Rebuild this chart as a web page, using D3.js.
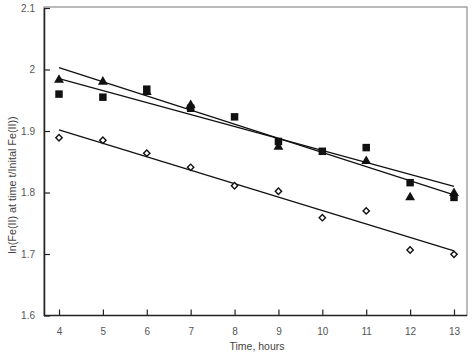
<!DOCTYPE html>
<html><head><meta charset="utf-8">
<script src="https://cdn.jsdelivr.net/npm/d3@7"></script>
<style>body{margin:0;background:#fff}svg{display:block}text{font-family:"Liberation Sans",Arial,sans-serif}</style>
</head><body>
<svg id="c" width="474" height="355"></svg>
<script>
const hours = [4,5,6,7,8,9,10,11,12,13];
const triangles = [1.983,1.980,1.963,1.942,null,1.874,null,1.851,1.792,1.799];
const squares = [1.960,1.955,1.968,1.937,1.923,1.883,1.867,1.873,1.816,1.792];
const diamonds = [1.889,1.885,1.864,1.841,1.811,1.802,1.759,1.770,1.7065,1.6995];
const fitTriangles = [2.003,1.796];
const fitSquares = [1.985,1.810];
const fitDiamonds = [1.902,1.705];
const fitX = [4,13];
const yTicks = [1.6,1.7,1.8,1.9,2.0,2.1];
const yTickLabels = ["1.6","1.7","1.8","1.9","2","2.1"];
const xTicks = [4,5,6,7,8,9,10,11,12,13];

const svg = d3.select("#c");
const L=44,R=467,T=7,B=315.5;
const x = d3.scaleLinear().domain([4,13]).range([59,454]);
const y = d3.scaleLinear().domain([1.6,2.1]).range([B,T+1]);

svg.append("rect").attr("x",L).attr("y",T).attr("width",R-L).attr("height",B-T)
  .attr("fill","none").attr("stroke","#777").attr("stroke-width",1);

const yAx = svg.append("g").attr("transform",`translate(${L},0)`)
  .call(d3.axisLeft(y).tickValues(yTicks).tickFormat((d,i)=>yTickLabels[i]).tickSizeInner(-6).tickSizeOuter(0).tickPadding(9));
yAx.select(".domain").attr("stroke","#222").attr("stroke-width",1.5);
yAx.selectAll(".tick line").attr("stroke","#222").attr("stroke-width",1.2);
yAx.selectAll("text").attr("font-size",10).attr("fill","#555");

const xAx = svg.append("g").attr("transform",`translate(0,${B})`)
  .call(d3.axisBottom(x).tickValues(xTicks).tickSizeInner(-6).tickSizeOuter(0).tickPadding(12));
xAx.select(".domain").attr("d",`M${L},0H${R}`).attr("stroke","#222").attr("stroke-width",1.5);
xAx.selectAll(".tick line").attr("stroke","#222").attr("stroke-width",1.2);
xAx.selectAll("text").attr("font-size",10).attr("fill","#555");

svg.append("text").attr("x",257).attr("y",350).attr("text-anchor","middle")
  .attr("font-size",10.5).attr("fill","#444").text("Time, hours");
svg.append("text").attr("transform","translate(16,185) rotate(-90)").attr("text-anchor","middle")
  .attr("font-size",10.8).attr("fill","#444").text("ln(Fe(II) at time t/Inital Fe(II))");

const line = d3.line().x(d=>x(d[0])).y(d=>y(d[1]));
[fitTriangles,fitSquares,fitDiamonds].forEach(f=>{
  svg.append("path").attr("d",line(fitX.map((xx,i)=>[xx,f[i]])))
    .attr("fill","none").attr("stroke","#111").attr("stroke-width",1.3);
});

function pts(vals){return hours.map((h,i)=>[h,vals[i]]).filter(d=>d[1]!=null);}
svg.append("g").selectAll("path").data(pts(triangles)).join("path")
  .attr("d",d3.symbol().type(d3.symbolTriangle).size(42))
  .attr("transform",d=>`translate(${x(d[0])},${y(d[1])})`).attr("fill","#111");
svg.append("g").selectAll("path").data(pts(squares)).join("path")
  .attr("d",d3.symbol().type(d3.symbolSquare).size(56))
  .attr("transform",d=>`translate(${x(d[0])},${y(d[1])})`).attr("fill","#111");
svg.append("g").selectAll("path").data(pts(diamonds)).join("path")
  .attr("d",d3.symbol().type(d3.symbolSquare).size(20))
  .attr("transform",d=>`translate(${x(d[0])},${y(d[1])}) rotate(45)`).attr("fill","#fff").attr("stroke","#111").attr("stroke-width",1.4);
</script>
</body></html>
